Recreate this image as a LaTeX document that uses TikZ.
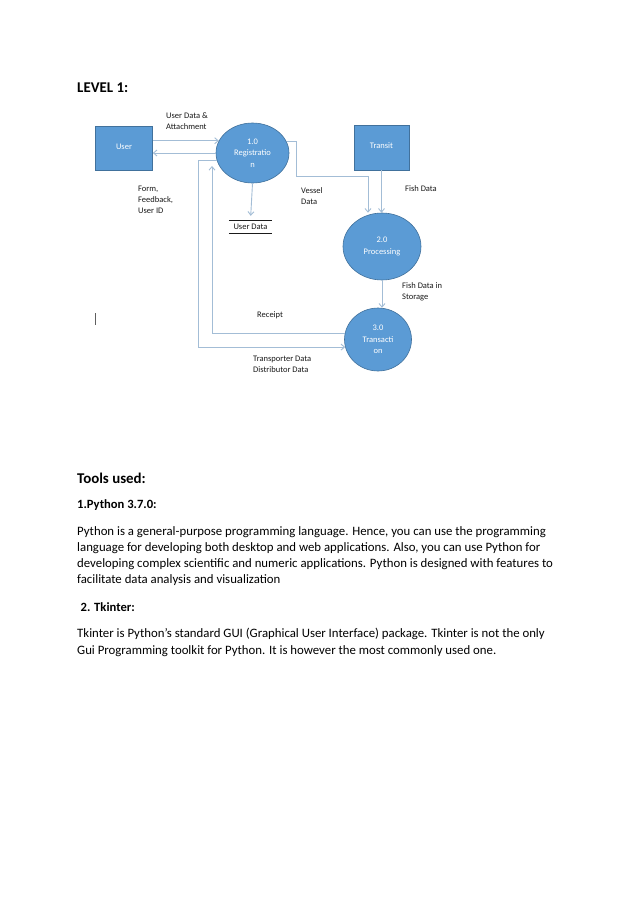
\documentclass[tikz,border=0pt]{standalone}
\usepackage{fontspec}
\setmainfont{Carlito}
\usetikzlibrary{shapes.geometric,arrows.meta}
\definecolor{procfill}{HTML}{5B9BD5}
\definecolor{procedge}{HTML}{41719C}
\definecolor{flowc}{HTML}{A3BDD6}
\definecolor{inkc}{HTML}{1A1A1A}
\begin{document}
\begin{tikzpicture}[x=1pt,y=-1pt,
  entity/.style={draw=procedge, fill=procfill, line width=0.6pt, inner sep=0, text=white, font=\fontsize{8.5}{10}\selectfont},
  process/.style={ellipse, draw=procedge, fill=procfill, line width=0.6pt, inner sep=0, text=white, align=center, font=\fontsize{8.5}{11.5}\selectfont},
  flow/.style={draw=flowc, line width=0.9pt, -{Straight Barb[length=3.5pt,width=6pt]}},
  storeline/.style={draw=inkc, line width=0.6pt},
  lbl/.style={anchor=north west, inner sep=0, align=left, text=inkc, font=\fontsize{8.5}{11}\selectfont},
  head/.style={anchor=west, inner sep=0, text=black, font=\bfseries\fontsize{14.9}{18}\selectfont},
  subhead/.style={anchor=west, inner sep=0, text=black, font=\bfseries\fontsize{12.6}{16}\selectfont},
  body/.style={anchor=north west, inner sep=0, align=left, text=black, font=\fontsize{12.8}{15.9}\selectfont}]
\useasboundingbox[fill=white] (0,0) rectangle (638,902);

% headings and text
\node[head] (h1) at (77,88) {LEVEL 1:};
\node[head] (h2) at (77,478) {Tools used:};
\node[subhead] (h3) at (77,505) {1.Python 3.7.0:};
\node[body] (p1) at (77,526.5) {Python is a general-purpose programming language. Hence, you can use the programming\\
language for developing both desktop and web applications. Also, you can use Python for\\
developing complex scientific and numeric applications. Python is designed with features to\\
facilitate data analysis and visualization};
\node[subhead] (h4) at (80.5,607) {2. Tkinter:};
\node[body, font=\fontsize{12.8}{17.4}\selectfont] (p2) at (77,628) {Tkinter is Python's standard GUI (Graphical User Interface) package. Tkinter is not the only\\
Gui Programming toolkit for Python. It is however the most commonly used one.};

% diagram nodes
\node[entity, minimum width=57pt, minimum height=44pt] (user) at (124,148) {\raisebox{3pt}{User}};
\node[process, minimum width=73pt, minimum height=60pt] (reg) at (252.5,153) {1.0\\Registratio\\n};
\node[entity, minimum width=55pt, minimum height=45pt] (transit) at (381.5,147.5) {\raisebox{3pt}{Transit}};
\node[process, minimum width=78pt, minimum height=67pt] (proc) at (382,246.5) {2.0\\Processing};
\node[process, minimum width=67pt, minimum height=63pt] (trans) at (378,339.5) {3.0\\Transacti\\on};
\node[inner sep=0, minimum width=43pt, minimum height=13pt, text=inkc, font=\fontsize{8.5}{10}\selectfont] (store) at (250.5,226.5) {User Data};
\draw[storeline] (store.north west) -- (store.north east);
\draw[storeline] (store.south west) -- (store.south east);

% bend points
\coordinate (v1) at (296,176);
\coordinate (v2) at (368,176);
\coordinate (r2) at (212,166);
\coordinate (t1) at (198,160);

% connectors
\draw[flow] (user.east|-reg.160) -- (reg.160);
\draw[flow] (reg.west) -- (user.east|-reg.west);
\draw[flow, shorten >=4pt] (reg.south) -- (store.north);
\draw[flow] (reg.18) -| (v1) -- (v2) -- (v2|-proc.north);
\draw[flow] (transit.south) -- (transit.south|-proc.north);
\draw[flow] (proc.south) -- (proc.south|-trans.north);
\draw[flow] (trans.169) -| (r2);
\draw[flow] (reg.191) -- (reg.191-|t1) |- (trans.193);

% labels
\node[lbl] (l1) at (166,112) {User Data \&\\Attachment};
\node[lbl] (l2) at (138,186) {Form,\\Feedback,\\User ID};
\node[lbl] (l3) at (301,187) {Vessel\\Data};
\node[lbl] (l4) at (405,185) {Fish Data};
\node[lbl] (l5) at (402,282) {Fish Data in\\Storage};
\node[lbl] (l6) at (257,311) {Receipt};
\node[lbl] (l7) at (253,356) {Transporter Data\\Distributor Data};

% text cursor
\draw[inkc!70, line width=0.6pt] (95,313) -- (95,325);
\end{tikzpicture}
\end{document}
